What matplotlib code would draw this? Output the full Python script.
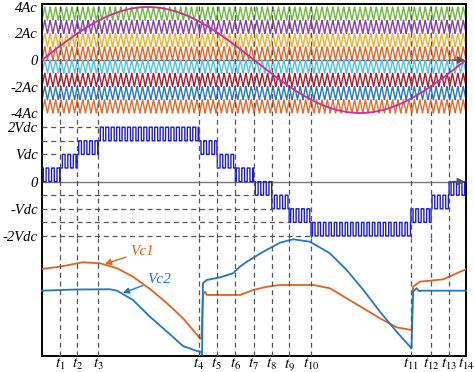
import numpy as np
import matplotlib
matplotlib.use('Agg')
import matplotlib.pyplot as plt

plt.rcParams['font.family'] = ['Liberation Serif', 'DejaVu Serif']
plt.rcParams['mathtext.fontset'] = 'stix'

# ---------------- data ----------------
period_ms = 20.0
mod_amplitude_ac = 4.0          # modulating sine amplitude (in Ac)
carrier_cycles = 78             # carrier periods per fundamental period
carrier_bottoms_ac = [3, 2, 1, 0, -1, -2, -3, -4]
carrier_colors = ['#6cbc3c', '#8a3fb2', '#f2b130', '#ec6526',
                  '#4fc2f2', '#b01c2c', '#2479cc', '#ee6a28']

t_marks_ms = [0.85, 1.67, 2.66, 7.40, 8.25, 9.12, 9.98, 10.84,
              11.66, 12.69, 17.40, 18.35, 19.20, 20.0]
t_labels = [r'$t_{%d}$' % i for i in range(1, 15)]

# output level band (lower level, Vdc) between successive t marks
seg_bottom_vdc = [0.0, 0.5, 1.0, 1.5, 1.0, 0.5, 0.0, -0.5, -1.0,
                  -1.5, -2.0, -1.5, -1.0, -0.5]
seg_duty = [0.5, 0.5, 0.5, 0.55, 0.5, 0.5, 0.5, 0.5, 0.5,
            0.5, 0.45, 0.5, 0.5, 0.5]
step_vdc = 0.5

ac_ticks = [4, 2, 0, -2, -4]
ac_labels = ['4Ac', '2Ac', '0', '-2Ac', '-4Ac']
vdc_ticks = [2, 1, 0, -1, -2]
vdc_labels = ['2Vdc', 'Vdc', '0', '-Vdc', '-2Vdc']

grid_levels_vdc = [2.0, 1.5, 1.0, -0.5, -1.0, -1.5, -2.0]
grid_ends_ms = [2.66, 1.67, 0.85, 9.98, 10.84, 11.66, 12.69]

vc1_t = [0.0, 0.85, 1.93, 2.74, 3.54, 4.29, 5.09, 5.90, 6.65, 7.45, 7.52,
         7.59, 7.69, 7.78, 8.87, 9.34, 9.97, 10.6, 11.23, 12.8, 13.58,
         14.37, 15.16, 15.94, 16.73, 17.44, 17.50, 17.83, 18.3, 18.93,
         19.56, 20.0]
vc1_v = [0.750, 0.770, 0.808, 0.799, 0.756, 0.684, 0.578, 0.454, 0.325,
         0.153, 0.147, 0.526, 0.554, 0.526, 0.526, 0.526, 0.569, 0.597,
         0.612, 0.612, 0.584, 0.497, 0.411, 0.325, 0.247, 0.224, 0.597,
         0.641, 0.649, 0.661, 0.713, 0.747]

vc2_t = [0.0, 1.56, 3.21, 3.54, 4.29, 5.09, 5.90, 6.65, 7.31, 7.50, 7.55,
         7.59, 7.77, 8.40, 9.01, 9.34, 9.66, 10.44, 11.23, 11.85, 12.64,
         13.58, 14.37, 15.16, 15.94, 16.73, 17.36, 17.43, 17.50, 17.67,
         17.78, 17.92, 20.0]
vc2_v = [0.563, 0.573, 0.575, 0.563, 0.483, 0.339, 0.209, 0.086, 0.043,
         0.037, 0.009, 0.627, 0.655, 0.678, 0.713, 0.770, 0.813, 0.899,
         0.977, 1.006, 0.985, 0.885, 0.741, 0.569, 0.382, 0.209, 0.080,
         0.065, 0.554, 0.584, 0.560, 0.563, 0.563]

# ---------------- figure ----------------
W_px, H_px = 474, 372
fig = plt.figure(figsize=(W_px / 100, H_px / 100), dpi=100)
L = 42 / W_px
W = 424 / W_px
ax1 = fig.add_axes([L, 1 - 116 / H_px, W, 112 / H_px])
ax2 = fig.add_axes([L, 1 - 238 / H_px, W, 122 / H_px])
ax3 = fig.add_axes([L, 1 - 356 / H_px, W, 118 / H_px])

for ax in (ax1, ax2, ax3):
    ax.set_xlim(0, period_ms)
    for s in ax.spines.values():
        s.set_linewidth(1.4)
        s.set_color('black')
    ax.tick_params(length=0, labelsize=10.5, pad=3)
    for tm in t_marks_ms:
        ax.axvline(tm, color='#555555', lw=0.9, ls=(0, (4, 3)), zorder=6)
ax1.spines['bottom'].set_visible(False)
ax2.spines['top'].set_visible(False)
ax2.spines['bottom'].set_visible(False)
ax3.spines['top'].set_visible(False)

t = np.linspace(0, period_ms, 12000)
tri = 1 - np.abs(2 * ((t * carrier_cycles / period_ms) % 1) - 1)
mod = mod_amplitude_ac * np.sin(2 * np.pi * t / period_ms)

# top: carriers + modulating wave
ax1.set_ylim(-4.226, 4.226)
ax1.axhline(0, color='#666666', lw=1, zorder=1)
for b, c in zip(carrier_bottoms_ac, carrier_colors):
    ax1.plot(t, b + tri, color=c, lw=1.0, zorder=2)
ax1.plot(t, mod, color='#d42a9c', lw=1.3, zorder=4)
ax1.annotate('', xy=(19.95, 0), xytext=(19.35, 0),
             arrowprops=dict(arrowstyle='-|>', color='#555555', lw=1,
                             mutation_scale=11, shrinkA=0, shrinkB=0),
             zorder=7)
ax1.set_xticks([])
ax1.set_yticks(ac_ticks, ac_labels, style='italic')

# middle: multilevel PWM output
edges = [0.0] + t_marks_ms
seg_idx = np.clip(np.searchsorted(edges, t, side='right') - 1, 0,
                  len(seg_bottom_vdc) - 1)
bottoms = np.array(seg_bottom_vdc)[seg_idx]
duties = np.array(seg_duty)[seg_idx]
out = bottoms + step_vdc * (tri < duties)
ax2.set_ylim(-2.074, 2.412)
ax2.axhline(0, color='#777777', lw=1, zorder=1)
ax2.annotate('', xy=(19.95, 0), xytext=(19.35, 0),
             arrowprops=dict(arrowstyle='-|>', color='#555555', lw=1,
                             mutation_scale=11, shrinkA=0, shrinkB=0),
             zorder=7)
for lev, end in zip(grid_levels_vdc, grid_ends_ms):
    ax2.hlines(lev, 0, end, color='#555555', lw=0.9, ls=(0, (4, 3)), zorder=5)
ax2.plot(t, out, color='#1a1ae6', lw=1.0, drawstyle='steps-post', zorder=3,
         clip_on=False)
ax2.set_xticks([])
ax2.set_yticks(vdc_ticks, vdc_labels, style='italic')

# bottom: capacitor voltages
ax3.set_ylim(0, 1.017)
ax3.plot(vc1_t, vc1_v, color='#e2621f', lw=1.3, zorder=3)
ax3.plot(vc2_t, vc2_v, color='#1f78c4', lw=1.3, zorder=3, clip_on=False)
ax3.annotate('Vc1', xy=(2.97, 0.793), xytext=(4.15, 0.897),
             color='#e2621f', fontsize=11, style='italic', va='center',
             arrowprops=dict(arrowstyle='-|>', color='#e2621f', lw=1,
                             mutation_scale=9, shrinkA=1, shrinkB=0))
ax3.annotate('Vc2', xy=(3.82, 0.543), xytext=(4.95, 0.66),
             color='#1f78c4', fontsize=11, style='italic', va='center',
             arrowprops=dict(arrowstyle='-|>', color='#1f78c4', lw=1,
                             mutation_scale=9, shrinkA=1, shrinkB=0))
ax3.set_yticks([])
ax3.set_xticks(t_marks_ms, t_labels)
ax3.tick_params(axis='x', labelsize=11, pad=1)

fig.savefig('out.png', dpi=100)
